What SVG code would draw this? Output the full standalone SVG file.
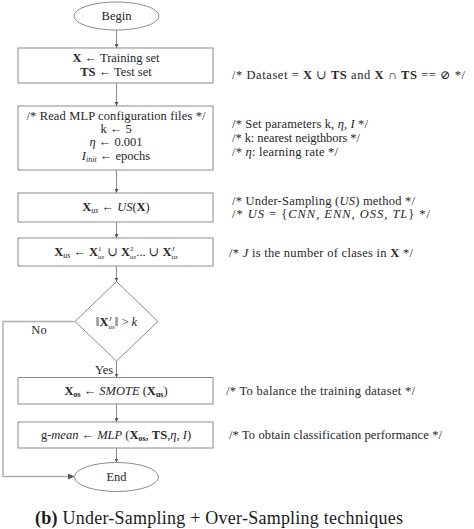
<svg xmlns="http://www.w3.org/2000/svg" width="474" height="529" viewBox="0 0 474 529">
<defs>
<style>
.shape{fill:#fff;stroke:#8c8c8c;stroke-width:1}
.line{fill:none;stroke:#8c8c8c;stroke-width:1}
text{font-family:"Liberation Serif","DejaVu Serif","DejaVu Sans",serif;font-size:12.5px;fill:#262626}
.c{text-anchor:middle}
.b{font-weight:bold}
.i{font-style:italic}
.s{font-size:8px}
.t{font-size:7px}
.cap{font-size:18px;fill:#1a1a1a}
</style>
<marker id="ah" viewBox="0 0 6 6" refX="6" refY="3" markerWidth="4" markerHeight="4" orient="auto">
<path d="M0,0 L6,3 L0,6 z" fill="#555"/>
</marker>
</defs>
<rect width="474" height="529" fill="#fff"/>

<g id="connectors">
<line class="line" x1="116.5" y1="30" x2="116.5" y2="48" marker-end="url(#ah)"/>
<line class="line" x1="116.5" y1="83" x2="116.5" y2="106" marker-end="url(#ah)"/>
<line class="line" x1="116.5" y1="170" x2="116.5" y2="193" marker-end="url(#ah)"/>
<line class="line" x1="116.5" y1="222" x2="116.5" y2="238" marker-end="url(#ah)"/>
<line class="line" x1="116.5" y1="266" x2="116.5" y2="281.5" marker-end="url(#ah)"/>
<line class="line" x1="116.5" y1="361" x2="116.5" y2="377.5" marker-end="url(#ah)"/>
<line class="line" x1="116.5" y1="404" x2="116.5" y2="422" marker-end="url(#ah)"/>
<line class="line" x1="116.5" y1="448" x2="116.5" y2="462.5" marker-end="url(#ah)"/>
<polyline class="line" points="75,321.5 3,321.5 3,476.5 74,476.5" style="stroke:#b0b0b0;stroke-width:1.5" marker-end="url(#ah)"/>
<text x="39" y="334" class="c">No</text>
<text x="104" y="374" class="c">Yes</text>
</g>

<g id="begin">
<ellipse class="shape" cx="116.5" cy="16" rx="42.5" ry="14"/>
<text x="116.5" y="20" class="c">Begin</text>
</g>

<g id="init">
<rect class="shape" x="18" y="48" width="195" height="35"/>
<text x="116" y="62" class="c"><tspan class="b">X</tspan> ← Training set</text>
<text x="116" y="76" class="c"><tspan class="b">TS</tspan> ← Test set</text>
</g>
<g id="init-comment">
<text x="232" y="79" textLength="233" lengthAdjust="spacing">/* Dataset = <tspan class="b">X</tspan> ∪ <tspan class="b">TS</tspan> and <tspan class="b">X</tspan> ∩ <tspan class="b">TS</tspan> == ⊘ */</text>
</g>

<g id="config">
<rect class="shape" x="18" y="106" width="195" height="64"/>
<text x="116" y="120" class="c" textLength="179" lengthAdjust="spacing">/* Read MLP configuration files */</text>
<text x="116" y="133" class="c">k ← 5</text>
<text x="116" y="146" class="c"><tspan class="i">η</tspan> ← 0.001</text>
<text x="116" y="160" class="c"><tspan class="i">I</tspan><tspan class="i s" dy="2">init</tspan><tspan dy="-2"> ← epochs</tspan></text>
</g>
<g id="config-comment">
<text x="232" y="128" textLength="136" lengthAdjust="spacing">/* Set parameters k, <tspan class="i">η, I</tspan> */</text>
<text x="232" y="142" textLength="128" lengthAdjust="spacing">/* k: nearest neigthbors */</text>
<text x="232" y="156" textLength="106" lengthAdjust="spacing">/* <tspan class="i">η</tspan>: learning rate */</text>
</g>

<g id="undersample">
<rect class="shape" x="18" y="193" width="195" height="29"/>
<text x="116" y="211" class="c"><tspan class="b">X</tspan><tspan class="i s" dy="2">us</tspan><tspan dy="-2"> ← </tspan><tspan class="i">US</tspan>(<tspan class="b">X</tspan>)</text>
</g>
<g id="undersample-comment">
<text x="232" y="205" textLength="183" lengthAdjust="spacing">/* Under-Sampling (<tspan class="i">US</tspan>) method */</text>
<text x="232" y="218" textLength="198" lengthAdjust="spacing">/* <tspan class="i">US</tspan> = {<tspan class="i">CNN, ENN, OSS, TL</tspan>} */</text>
</g>

<g id="union">
<rect class="shape" x="18" y="238" width="195" height="28"/>
<text x="116" y="256" class="c"><tspan class="b">X</tspan><tspan class="i s" dy="2">us</tspan><tspan dy="-2"> ← </tspan><tspan class="b">X</tspan><tspan class="t" dy="-5.5">1</tspan><tspan class="i t" dx="-3.5" dy="8.5">us</tspan><tspan dy="-3"> ∪ </tspan><tspan class="b">X</tspan><tspan class="t" dy="-5.5">2</tspan><tspan class="i t" dx="-3.5" dy="8.5">us</tspan><tspan dy="-3">... ∪ </tspan><tspan class="b">X</tspan><tspan class="i t" dy="-5.5">J</tspan><tspan class="i t" dx="-3" dy="8.5">us</tspan></text>
</g>
<g id="union-comment">
<text x="229" y="257" textLength="184" lengthAdjust="spacing">/* <tspan class="i">J</tspan> is the number of clases in <tspan class="b">X</tspan> */</text>
</g>

<g id="decision">
<polygon class="shape" points="116.5,281.5 158,321.5 116.5,361 75,321.5"/>
<text x="116.5" y="326" class="c">‖<tspan class="b">X</tspan><tspan class="i t" dy="-5.5">J</tspan><tspan class="i t" dx="-3" dy="8.5">us</tspan><tspan dy="-3">‖ &gt; </tspan><tspan class="i">k</tspan></text>
</g>

<g id="smote">
<rect class="shape" x="18" y="377.5" width="195" height="26.5"/>
<text x="116" y="395" class="c"><tspan class="b">X</tspan><tspan class="b s" dy="2">os</tspan><tspan dy="-2"> ← </tspan><tspan class="i">SMOTE</tspan> (<tspan class="b">X</tspan><tspan class="b s" dy="2">us</tspan><tspan dy="-2">)</tspan></text>
</g>
<g id="smote-comment">
<text x="226" y="395" textLength="189" lengthAdjust="spacing">/* To balance the training dataset */</text>
</g>

<g id="mlp">
<rect class="shape" x="18" y="422" width="195" height="26"/>
<text x="116" y="439" class="c">g-<tspan class="i">mean</tspan> ← <tspan class="i">MLP</tspan> (<tspan class="b">X</tspan><tspan class="b s" dy="2">os</tspan><tspan dy="-2">, </tspan><tspan class="b">TS</tspan>,<tspan class="i">η</tspan>, <tspan class="i">I</tspan>)</text>
</g>
<g id="mlp-comment">
<text x="229" y="439" textLength="213" lengthAdjust="spacing">/* To obtain classification performance */</text>
</g>

<g id="end">
<ellipse class="shape" cx="116.5" cy="477" rx="42" ry="14.5"/>
<text x="116.5" y="481" class="c">End</text>
</g>

<g id="caption">
<text x="35" y="524" class="cap" textLength="368" lengthAdjust="spacing"><tspan class="b">(b)</tspan> Under-Sampling + Over-Sampling techniques</text>
</g>
</svg>
